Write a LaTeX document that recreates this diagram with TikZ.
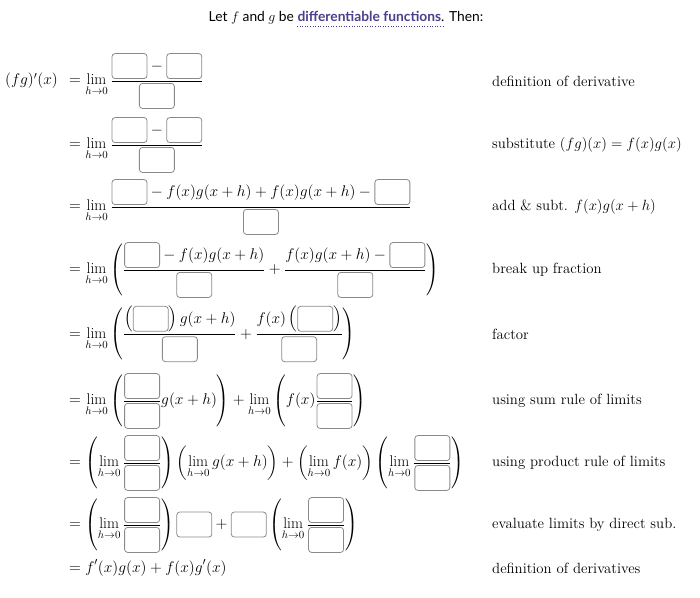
\documentclass[tikz,border=0pt]{standalone}
\usepackage{fix-cm}
\usepackage{amsmath}
\usepackage{fontspec}
\newfontfamily\titlefont{Lato}
\definecolor{boxgray}{HTML}{8A8A8A}
\definecolor{linkpurple}{HTML}{4A3F8C}
\newcommand{\bx}{\tikz[baseline=-0.65ex]\draw[boxgray,rounded corners=3pt,line width=0.8pt](0,-12.5pt) rectangle (35pt,12.5pt);}
\newcommand{\lm}{\lim_{h\to0}}
\tikzset{
  row/.style={anchor=west,inner sep=0pt,font=\fontsize{15.5}{18}\selectfont},
  note/.style={anchor=west,inner sep=0pt,font=\fontsize{14.8}{17}\selectfont},
}
\begin{document}
\begin{tikzpicture}[x=1pt,y=1pt]
\useasboundingbox (0,0) rectangle (700,-597);
\node[anchor=base,inner sep=0pt] (title) at (346,-21) {\titlefont\fontsize{13.8}{16}\selectfont Let $f$ and $g$ be {\color{linkpurple}\bfseries differentiable functions}. Then:};
\draw[linkpurple,dotted,line width=0.6pt] (297,-26) -- (444,-26);
\node[row,anchor=east] (lhs) at (58,-81) {$(fg)'(x)$};
\node[row] (r1) at (69,-81) {$\displaystyle =\lm\frac{\bx-\bx}{\bx}$};
\node[row] (r2) at (69,-145) {$\displaystyle =\lm\frac{\bx-\bx}{\bx}$};
\node[row] (r3) at (69,-207) {$\displaystyle =\lm\frac{\bx-f(x)g(x+h)+f(x)g(x+h)-\bx}{\bx}$};
\node[row] (r4) at (69,-270) {$\displaystyle =\lm\left(\frac{\bx-f(x)g(x+h)}{\bx}+\frac{f(x)g(x+h)-\bx}{\bx}\right)$};
\node[row] (r5) at (69,-334) {$\displaystyle =\lm\left(\frac{\left(\bx\right)g(x+h)}{\bx}+\frac{f(x)\left(\bx\right)}{\bx}\right)$};
\node[row] (r6) at (69,-401) {$\displaystyle =\lm\left(\frac{\bx}{\bx}g(x+h)\right)+\lm\left(f(x)\frac{\bx}{\bx}\right)$};
\node[row] (r7) at (69,-463) {$\displaystyle =\left(\lm\frac{\bx}{\bx}\right)\left(\lm g(x+h)\right)+\left(\lm f(x)\right)\left(\lm\frac{\bx}{\bx}\right)$};
\node[row] (r8) at (69,-525) {$\displaystyle =\left(\lm\frac{\bx}{\bx}\right)\bx+\bx\left(\lm\frac{\bx}{\bx}\right)$};
\node[row] (r9) at (69,-568) {$\displaystyle =f'(x)g(x)+f(x)g'(x)$};
\node[note] (n1) at (492,-81) {definition of derivative};
\node[note] (n2) at (492,-145) {substitute $(fg)(x)=f(x)g(x)$};
\node[note] (n3) at (492,-207) {add \& subt. $f(x)g(x+h)$};
\node[note] (n4) at (492,-270) {break up fraction};
\node[note] (n5) at (492,-334) {factor};
\node[note] (n6) at (492,-401) {using sum rule of limits};
\node[note] (n7) at (492,-463) {using product rule of limits};
\node[note] (n8) at (492,-525) {evaluate limits by direct sub.};
\node[note] (n9) at (492,-568) {definition of derivatives};
\end{tikzpicture}
\end{document}
